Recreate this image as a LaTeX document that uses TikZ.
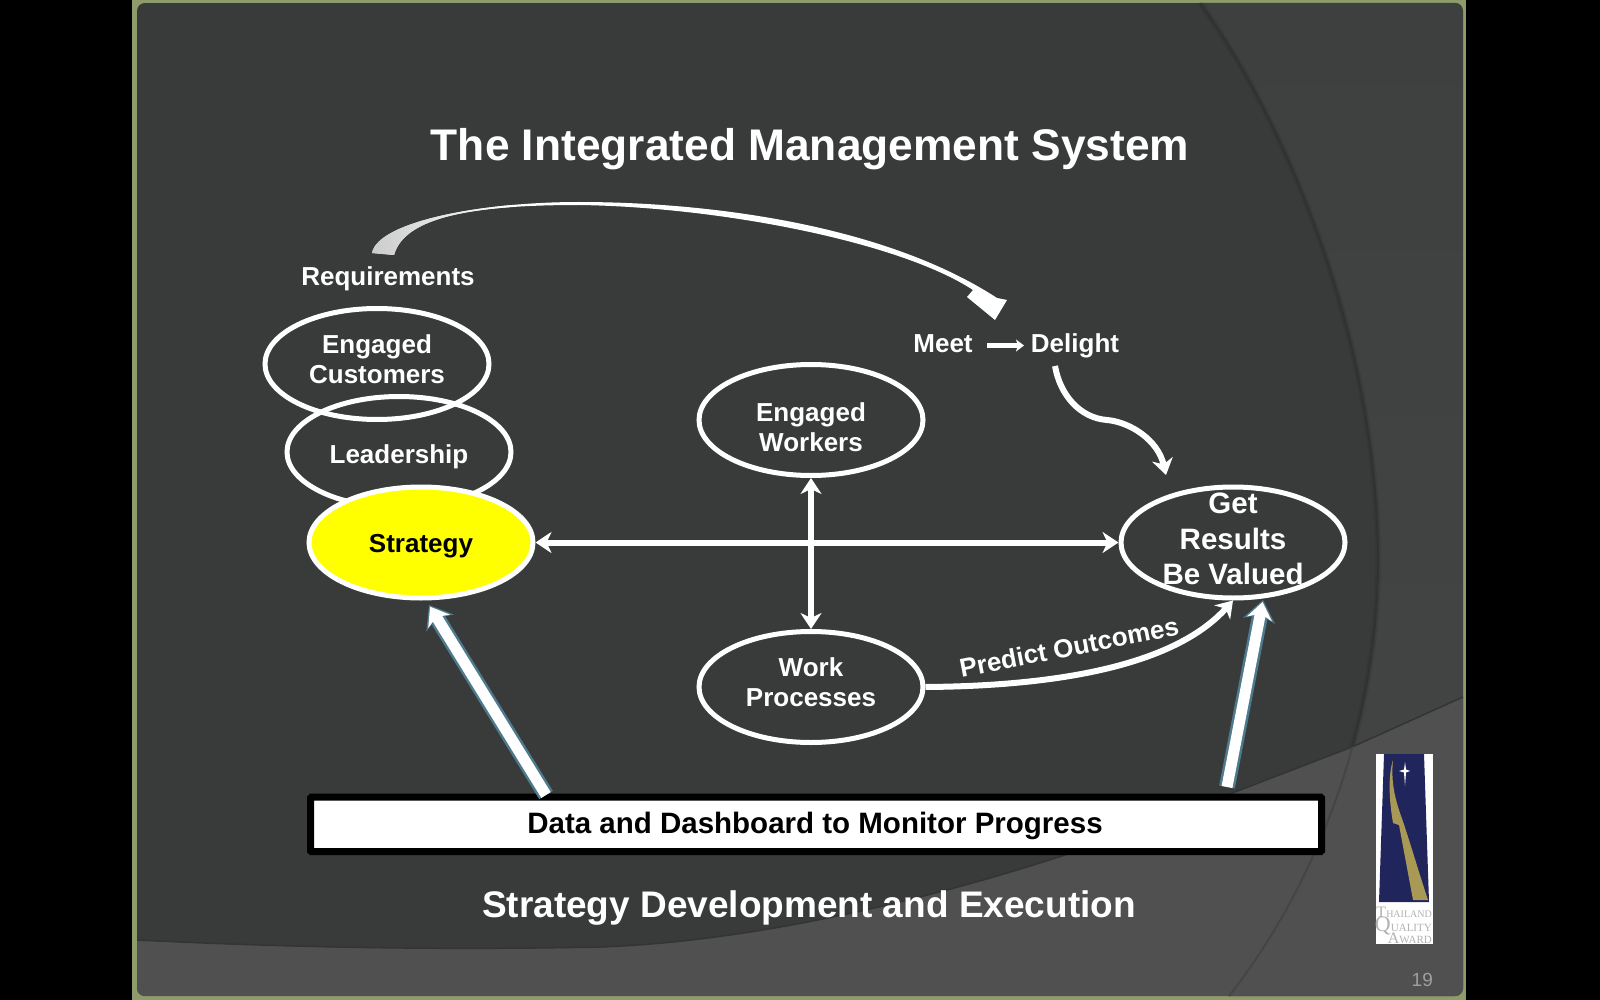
\documentclass[tikz,border=0pt]{standalone}
\usepackage{fontspec}
\setmainfont{Liberation Sans}
\newfontfamily\awardfont{Liberation Serif}
\usetikzlibrary{arrows.meta,shapes.geometric}
\definecolor{slidegreen}{HTML}{8E9B6B}
\definecolor{slidedark}{HTML}{393A3A}
\definecolor{slidelight}{HTML}{3E3F3F}
\definecolor{slidelow}{HTML}{444545}
\definecolor{slideband}{HTML}{505050}
\definecolor{slideedge}{HTML}{2F3030}
\definecolor{arrowteal}{HTML}{4D7A8C}
\definecolor{awardnavy}{HTML}{20255C}
\definecolor{awardgold}{HTML}{A89A55}
\definecolor{strategyfill}{RGB}{255,255,0}
\newcommand{\swooshpath}{(372,253) .. controls (378,222) and (480,202) .. (579,202) .. controls (700,202) and (880,222) .. (997,298) -- (1007,300) -- (995,320) -- (967,297) -- (973,290) .. controls (900,242) and (720,207) .. (579,205) .. controls (480,205) and (405,215) .. (394,255) -- cycle}
\newcommand{\bigarc}{(1200,3) .. controls (1285,120) and (1378,340) .. (1378,560) .. controls (1378,720) and (1320,880) .. (1229,996)}
\newcommand{\bandedge}{(137,940) .. controls (300,948) and (450,950) .. (600,947) .. controls (800,940) and (1050,870) .. (1235,792) -- (1352,747) -- (1463,697)}
\begin{document}
\begin{tikzpicture}[x=1pt,y=-1pt,>={Stealth[length=16pt,width=21pt,inset=5pt]},
 ring/.style={draw=white,line width=5pt,ellipse,minimum width=224pt,minimum height=111pt,inner sep=0pt},
 lab/.style={text=white,font=\bfseries\fontsize{26}{30.5}\selectfont,align=center,inner sep=0pt},
 wire/.style={draw=white,line width=6pt},
 tealarrow/.style={draw=arrowteal,line width=16pt,-{Stealth[length=21pt,width=32pt,inset=6pt]}},
 whitearrow/.style={draw=white,line width=11pt,shorten >=2pt,-{Stealth[length=17pt,width=25pt,inset=5pt]}},
 awardtext/.style={text=gray!60,font=\awardfont\fontsize{10}{10}\selectfont,inner sep=0pt,anchor=base east}]
 \useasboundingbox (0,0) rectangle (1600,1000);
 \fill[black] (0,0) rectangle (1600,1000);
 \fill[slidegreen] (132,0) rectangle (1466,1000);
 \begin{scope}
  \clip[rounded corners=8pt] (137,3) rectangle (1463,996);
  \fill[slidedark] (137,3) rectangle (1463,996);
  \shade[top color=slidelight,bottom color=slidelow] \bigarc -- (1463,996) -- (1463,3) -- cycle;
  \draw[slideedge,line width=6pt,opacity=.3] \bigarc;
  \draw[slideedge,line width=2pt,opacity=.8] \bigarc;
  \fill[slideband] \bandedge -- (1463,996) -- (137,996) -- cycle;
  \draw[slidedark!90!black,line width=1.5pt] \bandedge;
  \begin{scope}
   \clip \bandedge -- (1463,996) -- (137,996) -- cycle;
   \draw[slidelow,line width=2pt] \bigarc;
  \end{scope}
 \end{scope}

 \node[lab,anchor=base,font=\bfseries\fontsize{44.3}{50}\selectfont] (title) at (810,161) {The Integrated Management System};
 \node[lab,anchor=base] (requirements) at (388,286) {Requirements};
 \fill[white] \swooshpath;
 \begin{scope}
  \clip \swooshpath;
  \shade[left color=gray!40,right color=white] (372,195) rectangle (510,260);
 \end{scope}

 \node[ring] (customers) at (377,364) {};
 \node[ring] (leadership) at (399,452) {};
 \node[ring,fill=strategyfill] (strategy) at (421,542.5) {};
 \node[ring] (workers) at (811,420) {};
 \node[ring] (processes) at (811,687) {};
 \node[ring] (results) at (1233,542.5) {};

 \node[lab] (customerstext) at (377,359) {Engaged\\Customers};
 \node[lab,anchor=base] (leadershiptext) at (399,463) {Leadership};
 \node[lab,anchor=base,text=black] (strategytext) at (421,552) {Strategy};
 \node[lab] (workerstext) at (811,427) {Engaged\\Workers};
 \node[lab] (processestext) at (811,682) {Work\\Processes};
 \node[lab,font=\bfseries\fontsize{29.5}{35.5}\selectfont] (resultstext) at (1233,539) {Get\\Results\\Be Valued};

 \node[lab,anchor=base] (meet) at (943,352) {Meet};
 \node[lab,anchor=base] (delight) at (1075,352) {Delight};
 \node[lab,rotate=11] (predict) at (1069,647) {Predict Outcomes};

 \draw[white,line width=5pt,-{Stealth[length=8pt,width=12pt,inset=2pt]}] (987,345.5) coordinate (meetout) -- (1024,345.5) coordinate (delightin);
 \coordinate (delightout) at (1055,366);
 \coordinate (resultsin) at (1166,475);
 \draw[wire,->] (delightout) .. controls (1060,395) and (1080,418) .. (1107,420) .. controls (1130,422) and (1158,440) .. (resultsin);
 \draw[wire,<->] (strategy.east) -- (results.west);
 \draw[wire,<->] (workers.south) -- (processes.north);
 \draw[wire,->] (processes.east) .. controls (1060,686) and (1175,665) .. (results.south);

 \node[draw=black,fill=white,line width=7pt,rounded corners=1pt,minimum width=1011pt,minimum height=54.5pt,inner sep=0pt] (dashbar) at (816,824.3) {};
 \node[lab,anchor=base,text=black,font=\bfseries\fontsize{29.5}{34}\selectfont] (dashtext) at (815,833) {Data and Dashboard to Monitor Progress};
 \node[lab,anchor=base,font=\bfseries\fontsize{37}{42}\selectfont] (subtitle) at (809,917) {Strategy Development and Execution};

 \coordinate (lefttail) at (546,795);
 \coordinate (lefttip) at (429,605);
 \coordinate (righttail) at (1227,787);
 \coordinate (righttip) at (1263,600);
 \draw[tealarrow] (lefttail) -- (lefttip);
 \draw[whitearrow] (lefttail) -- (lefttip);
 \draw[tealarrow] (righttail) -- (righttip);
 \draw[whitearrow] (righttail) -- (righttip);

 \fill[white] (1376,754) rectangle (1433,944);
 \fill[awardnavy] (1384,754) -- (1424,754) -- (1429,902) -- (1379,902) -- cycle;
 \fill[awardgold] (1393,760) .. controls (1388,775) and (1389,800) .. (1393,823) -- (1399,825) -- (1413,900) -- (1428,900) .. controls (1418,870) and (1408,835) .. (1400,813) .. controls (1394,795) and (1391,780) .. (1393,760) -- cycle;
 \fill[white] (1405,762) -- (1406,769.5) -- (1410,771) -- (1406,772.5) -- (1405,786) -- (1404,772.5) -- (1399,771) -- (1404,769.5) -- cycle;
 \node[awardtext] (award1) at (1432,917) {{\fontsize{16}{16}\selectfont T}HAILAND};
 \node[awardtext] (award2) at (1432,931) {{\fontsize{22}{22}\selectfont Q}\fontsize{11}{11}\selectfont UALITY};
 \node[awardtext] (award3) at (1432,943) {{\fontsize{16}{16}\selectfont A}\fontsize{11}{11}\selectfont WARD};
 \node[text=gray!75,font=\fontsize{19}{22}\selectfont,anchor=base east,inner sep=0pt] (pagenum) at (1433,986) {19};
\end{tikzpicture}
\end{document}
